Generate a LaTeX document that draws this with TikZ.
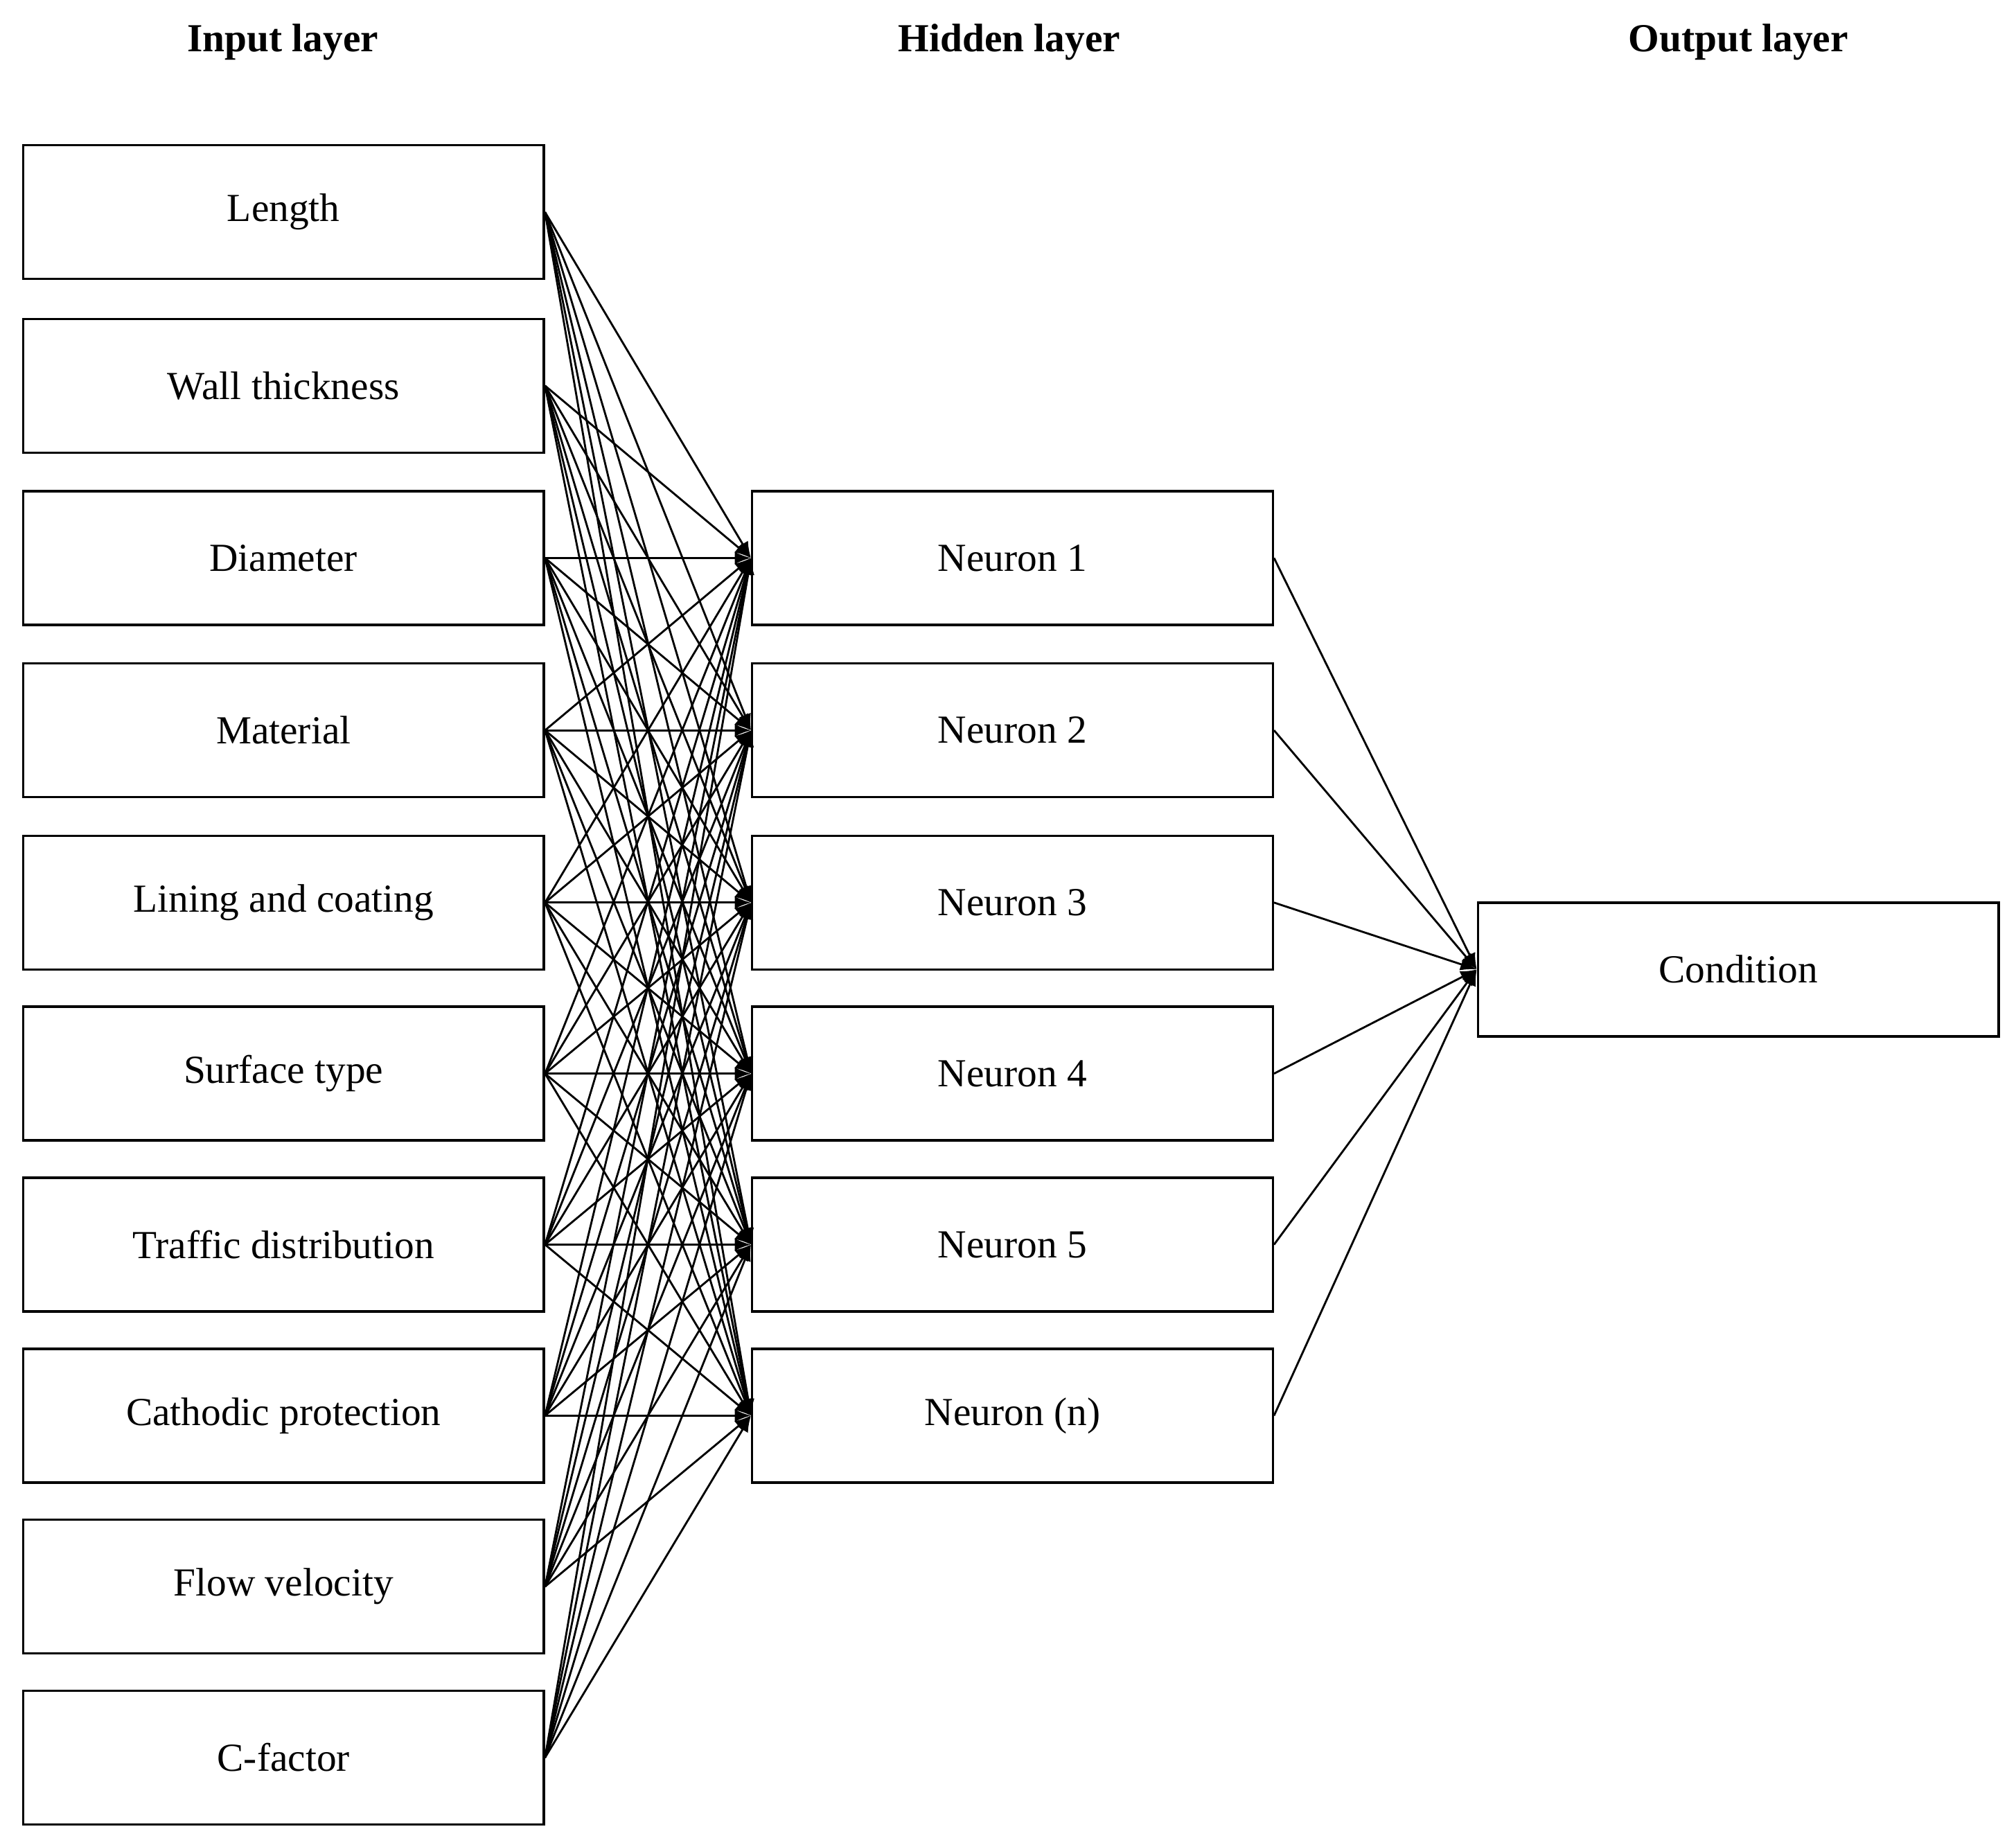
\documentclass[tikz,border=0pt]{standalone}
\usepackage{fontspec}
\setmainfont{Liberation Serif}
\usetikzlibrary{arrows.meta}
\begin{document}
\begin{tikzpicture}[x=0.05cm,y=-0.05cm,
  box/.style={draw,line width=2.6pt,minimum width=405*0.05cm,minimum height=104*0.05cm,inner sep=0pt,font=\fontsize{44}{52}\selectfont},
  ttl/.style={font=\fontsize{44}{52}\selectfont\bfseries},
  con/.style={line width=2.2pt,-{Latex[length=18pt,width=14pt]}}]
\useasboundingbox (0,0) rectangle (1568,1436);
\node[ttl] (t1) at (220,33) {Input layer};
\node[ttl] (t2) at (785,33) {Hidden layer};
\node[ttl] (t3) at (1352,33) {Output layer};
\foreach \i/\y/\t in {1/165/Length,2/300/Wall thickness,3/434/Diameter,4/568/Material,5/702/Lining and coating,6/835/Surface type,7/968/Traffic distribution,8/1101/Cathodic protection,9/1234/Flow velocity,10/1367/C-factor}
  \node[box] (i\i) at (220.5,\y) {\t};
\foreach \j/\y/\t in {1/434/Neuron 1,2/568/Neuron 2,3/702/Neuron 3,4/835/Neuron 4,5/968/Neuron 5,6/1101/Neuron (n)}
  \node[box] (h\j) at (787.5,\y) {\t};
\node[box] (o) at (1352,754) {Condition};
\foreach \i in {1,...,10}
  \foreach \j in {1,...,6}
    \draw[con] (i\i.east) -- (h\j.west);
\foreach \j in {1,...,6}
  \draw[con] (h\j.east) -- (o.west);
\end{tikzpicture}
\end{document}
